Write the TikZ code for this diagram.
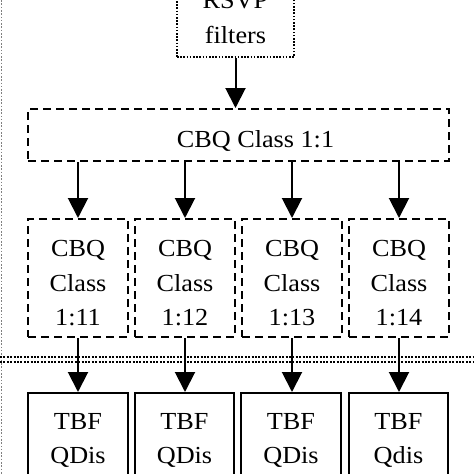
\documentclass[tikz,border=0pt]{standalone}
\usepackage{fontspec}
\setmainfont{Liberation Serif}[FakeStretch=1.07]
\usetikzlibrary{arrows.meta}
\begin{document}
\begin{tikzpicture}[x=1pt,y=-1pt,
  dashbox/.style={draw=black,line width=2pt,dash pattern=on 8pt off 5pt,inner sep=0pt},
  dotbox/.style={draw=black,line width=1.6pt,dash pattern=on 1.6pt off 1.6pt,inner sep=0pt},
  solidbox/.style={draw=black,line width=2pt,inner sep=0pt},
  txt/.style={inner sep=0pt,align=center,font=\fontsize{24.5}{34.5}\selectfont},
  arr/.style={line width=2pt,-{Triangle[length=20pt,width=20pt]}}]
\useasboundingbox (0,0) rectangle (474,474);
\fill[white] (0,0) rectangle (474,474);
% separators
\draw[gray,line width=1.4pt,dash pattern=on 1.6pt off 1.7pt] (1.5,0) -- (1.5,474);
\draw[black,line width=2pt,dash pattern=on 2pt off 1.4pt] (0,356.5) -- (474,356.5);
\draw[black,line width=2pt,dash pattern=on 2pt off 1.4pt] (0,362) -- (474,362);
% RSVP
\node[dotbox,minimum width=117pt,minimum height=87pt] (rsvp) at (235.5,13.5) {};
\node[txt] (trsvp) at (235.5,17.8) {RSVP\\filters};
% CBQ 1:1
\node[dashbox,minimum width=421pt,minimum height=52pt] (c1) at (238.5,135) {};
\node[txt,anchor=base] (tc1) at (255.5,147.3) {CBQ Class 1:1};
% CBQ subclasses
\foreach \n/\x in {11/78,12/185,13/292,14/399}{
  \node[dashbox,minimum width=100pt,minimum height=118pt] (c\n) at (\x,278) {};
  \node[txt] (tc\n) at (\x,283.3) {CBQ\\Class\\1:\n};
}
% TBF boxes
\node[solidbox,minimum width=100pt,minimum height=120pt] (q11) at (78,453) {};
\node[solidbox,minimum width=99pt,minimum height=120pt] (q12) at (184.5,453) {};
\node[solidbox,minimum width=100pt,minimum height=120pt] (q13) at (291,453) {};
\node[solidbox,minimum width=99pt,minimum height=120pt] (q14) at (398.5,453) {};
\node[txt] (tq11) at (78,440.3) {TBF\\QDis};
\node[txt] (tq12) at (184.5,440.3) {TBF\\QDis};
\node[txt] (tq13) at (291,440.3) {TBF\\QDis};
\node[txt] (tq14) at (398.5,440.3) {TBF\\Qdis};
% arrows
\draw[arr] (rsvp.south) -- (rsvp.south |- c1.north);
\foreach \n in {11,12,13,14}{
  \draw[arr] (c\n.north |- c1.south) -- (c\n.north);
  \draw[arr] (c\n.south) -- (c\n.south |- q\n.north);
}
\end{tikzpicture}
\end{document}
